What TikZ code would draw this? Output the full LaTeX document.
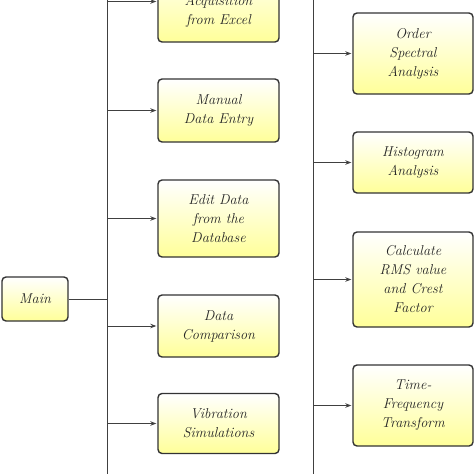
\documentclass[tikz,border=0pt]{standalone}
\usetikzlibrary{arrows.meta}
\begin{document}
\begin{tikzpicture}[x=1pt,y=-1pt,
  boxtext/.style={align=center, inner sep=0pt, font=\itshape\fontsize{14.3}{19}\selectfont, text=black!85},
  box/.style={boxtext, draw=black!80, line width=1.4pt, rounded corners=4pt,
    top color=white, bottom color=yellow!40, minimum width=121pt},
  link/.style={draw=black!75, line width=0.9pt},
  arr/.style={link, -{Stealth[length=6pt,width=4.5pt]}, shorten >=1pt}]
\useasboundingbox (0,0) rectangle (474,474);
\clip (0,0) rectangle (474,474);

% main
\node[box, minimum width=66pt, minimum height=44pt] (main) at (35,299) {Main};

% left column
\node[box, minimum height=81pt] (b1) at (218.5,1.5) {};
\node[boxtext] (t1) at (218.5,11) {Acquisition\\from Excel};
\node[box, minimum height=63pt] (b2) at (218.5,110.5) {Manual\\Data Entry};
\node[box, minimum height=77pt] (b3) at (218.5,218.5) {Edit Data\\from the\\Database};
\node[box, minimum height=62pt] (b4) at (218.5,326) {Data\\Comparison};
\node[box, minimum height=60pt] (b5) at (218.5,423.5) {Vibration\\Simulations};

% right column
\node[box, minimum width=120pt, minimum height=81pt] (rA) at (413,53.5) {Order\\Spectral\\Analysis};
\node[box, minimum width=120pt, minimum height=61pt] (rB) at (413,162.5) {Histogram\\Analysis};
\node[box, minimum width=120pt, minimum height=95pt] (rC) at (413,279.5) {Calculate\\RMS value\\and Crest\\Factor};
\node[box, minimum width=120pt, minimum height=81pt] (rD) at (413,405.5) {Time-\\Frequency\\Transform};

% trunks
\coordinate (Ltop) at (107,-10);
\coordinate (Lbot) at (107,484);
\coordinate (Rtop) at (313,-10);
\coordinate (Rbot) at (313,484);
\draw[link] (Ltop) -- (Lbot);
\draw[link] (Rtop) -- (Rbot);
\draw[link] (main) -- (main -| Ltop);

\foreach \n in {b1,b2,b3,b4,b5}
  \draw[arr] (Ltop |- \n.west) -- (\n.west);
\foreach \n in {rA,rB,rC,rD}
  \draw[arr] (Rtop |- \n.west) -- (\n.west);
\end{tikzpicture}
\end{document}
